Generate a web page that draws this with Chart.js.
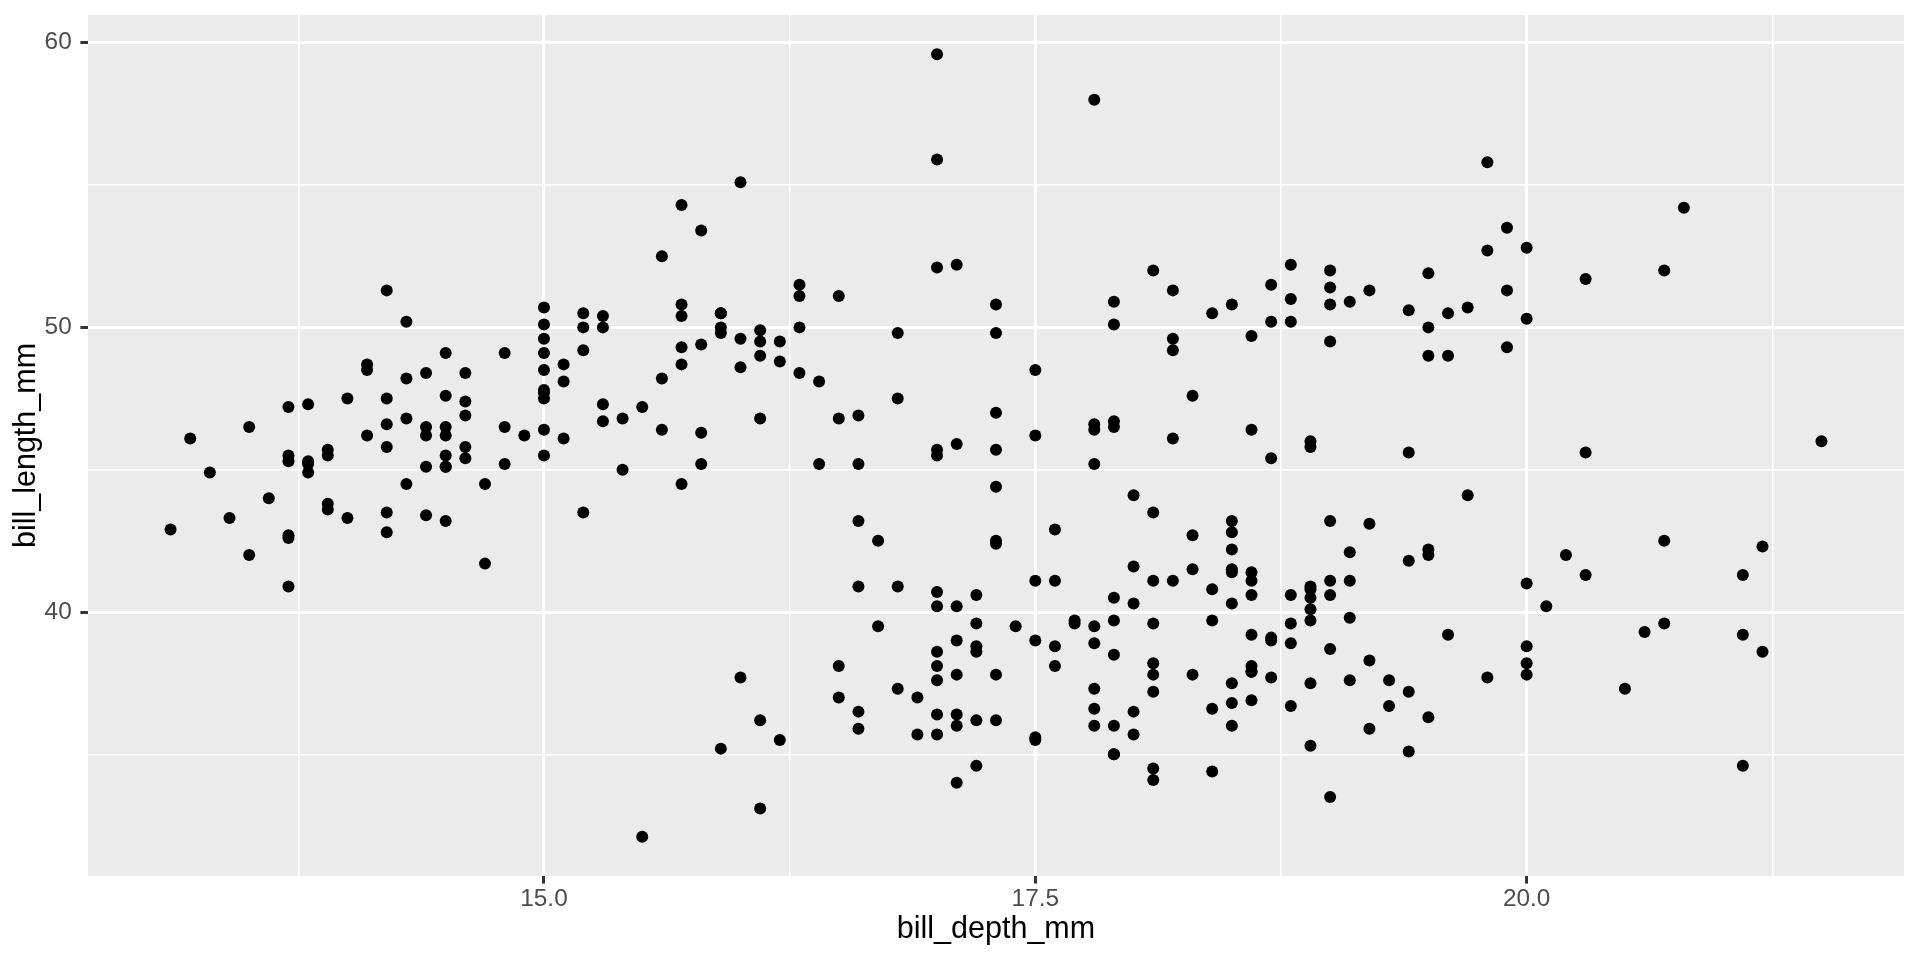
<!DOCTYPE html>
<html>
<head>
<meta charset="utf-8">
<script src="https://cdn.jsdelivr.net/npm/chart.js@4"></script>
<style>
  html, body { margin: 0; padding: 0; background: #ffffff; }
  #wrap { width: 1920px; height: 960px; }
</style>
</head>
<body>
<div id="wrap"><canvas id="penguinChart"></canvas></div>
<script>
// bill_depth_mm / bill_length_mm, grouped by penguin species
const adelieDepth = [18.7,17.4,18.0,19.3,20.6,17.8,19.6,18.1,20.2,17.1,17.3,17.6,21.2,21.1,17.8,19.0,20.7,18.4,21.5,18.3,
  18.7,19.2,18.1,17.2,18.9,18.6,17.9,18.6,18.9,16.7,18.1,17.8,18.9,17.0,21.1,20.0,18.5,19.3,19.1,18.0,
  18.4,18.5,19.7,16.9,18.8,19.0,18.9,17.9,21.2,17.7,18.9,17.9,19.5,18.1,18.6,17.5,18.8,16.6,19.1,16.9,
  21.1,17.0,18.2,17.1,18.0,16.2,19.1,16.6,19.4,19.0,18.4,17.2,18.9,17.5,18.5,16.8,19.4,16.1,19.1,17.2,
  17.6,18.8,19.4,17.8,20.3,19.5,18.6,19.2,18.8,18.0,18.1,17.1,18.1,17.3,18.9,18.6,18.5,16.1,18.5,17.9,
  20.0,16.0,20.0,18.6,18.9,17.2,20.0,17.0,19.0,16.5,20.3,17.7,19.5,20.7,18.3,17.0,20.5,17.0,18.6,17.2,
  19.8,17.0,18.5,15.9,19.0,17.6,18.3,17.1,18.0,17.9,19.2,18.5,18.5,17.6,17.5,17.5,20.1,16.5,17.9,17.1,
  17.2,15.5,17.0,16.8,18.7,18.6,18.4,17.8,18.1,17.1,18.5];
const adelieLength = [39.1,39.5,40.3,36.7,39.3,38.9,39.2,34.1,42.0,37.8,37.8,41.1,38.6,34.6,36.6,38.7,42.5,34.4,46.0,37.8,
  37.7,35.9,38.2,38.8,35.3,40.6,40.5,37.9,40.5,39.5,37.2,39.5,40.9,36.4,39.2,38.8,42.2,37.6,39.8,36.5,
  40.8,36.0,44.1,37.0,39.6,41.1,37.5,36.0,42.3,39.6,40.1,35.0,42.0,34.5,41.4,39.0,40.6,36.5,37.6,35.7,
  41.3,37.6,41.1,36.4,41.6,35.5,41.1,35.9,41.8,33.5,39.7,39.6,45.8,35.5,42.8,40.9,37.2,36.2,42.1,34.6,
  42.9,36.7,35.1,37.3,41.3,36.3,36.9,38.3,38.9,35.7,41.1,34.0,39.6,36.2,40.8,38.1,40.3,33.1,43.2,35.0,
  41.0,37.7,37.8,37.9,39.7,38.6,38.2,38.1,43.2,38.1,45.6,39.7,42.2,39.6,42.7,38.6,37.3,35.7,41.1,36.2,
  37.7,40.2,41.4,35.2,40.6,38.8,41.5,39.0,44.1,38.5,43.1,36.8,37.5,38.1,41.1,35.6,40.2,37.0,39.7,40.2,
  40.6,32.1,40.7,37.3,39.0,39.2,36.6,36.0,37.8,36.0,41.5];

const gentooDepth = [13.2,16.3,14.1,15.2,14.5,13.5,14.6,15.3,13.4,15.4,13.7,16.1,13.7,14.6,14.6,15.7,13.5,15.2,14.5,15.1,
  14.3,14.5,14.5,15.8,13.1,15.1,14.3,15.0,14.3,15.3,15.3,14.2,14.5,17.0,14.8,16.3,13.7,17.3,13.6,15.7,
  13.7,16.0,13.7,15.0,15.9,13.9,13.9,15.9,13.3,15.8,14.2,14.1,14.4,15.0,14.4,15.4,13.9,15.0,14.5,15.3,
  13.8,14.9,13.9,15.7,14.2,16.8,14.4,16.2,14.2,15.0,15.0,15.6,15.6,14.8,15.0,16.0,14.2,16.3,13.8,16.4,
  14.5,15.6,14.6,15.9,13.8,17.3,14.4,14.2,14.0,17.0,15.0,17.1,14.5,16.1,14.7,15.7,15.8,14.6,14.4,16.5,
  15.0,17.0,15.5,15.0,13.8,16.1,14.7,15.8,14.0,15.1,15.2,15.9,15.2,16.3,14.1,16.0,15.7,16.2,13.7,14.3,
  15.7,14.8,16.1];
const gentooLength = [46.1,50.0,48.7,50.0,47.6,46.5,45.4,46.7,43.3,46.8,40.9,49.0,45.5,48.4,45.8,49.3,42.0,49.2,46.2,48.7,
  50.2,45.1,46.5,46.3,42.9,46.1,44.5,47.8,48.2,50.0,47.3,42.8,45.1,59.6,49.1,48.4,42.6,44.4,44.0,48.7,
  42.7,49.6,45.3,49.6,50.5,43.6,45.5,50.5,44.9,45.2,46.6,48.5,45.1,50.1,46.5,45.0,43.8,45.5,43.2,50.4,
  45.3,46.2,45.7,54.3,45.8,49.8,46.2,49.5,43.5,50.7,47.7,46.4,48.2,46.5,46.4,48.6,47.5,51.1,45.2,45.2,
  49.1,52.5,47.4,50.0,44.9,50.8,43.4,51.3,47.5,52.1,47.5,52.2,45.5,49.5,44.5,50.8,49.4,46.9,48.4,51.1,
  48.5,55.9,47.2,49.1,47.3,46.8,41.7,53.4,43.3,48.1,50.5,49.8,43.5,51.5,46.2,55.1,44.5,48.8,47.2,46.8,
  50.4,45.2,49.9];

const chinstrapDepth = [17.9,19.5,19.2,18.7,19.8,17.8,18.2,18.2,18.9,19.9,17.8,20.3,17.3,18.1,17.1,19.6,20.0,17.8,18.6,18.2,
  17.3,17.5,16.6,19.4,17.9,19.0,18.4,19.0,17.8,20.0,16.6,20.8,16.7,18.8,18.6,16.8,18.3,20.7,16.6,19.9,
  19.5,17.5,19.1,17.0,17.9,18.5,17.9,19.6,18.7,17.3,16.4,19.0,17.3,19.7,17.3,18.8,16.6,19.9,18.8,19.4,
  19.5,16.5,17.0,19.8,18.1,18.2,19.0,18.7];
const chinstrapLength = [46.5,50.0,51.3,45.4,52.7,45.2,46.1,51.3,46.0,51.3,46.6,51.7,47.0,52.0,45.9,50.5,50.3,58.0,46.4,49.2,
  42.4,48.5,43.2,50.6,46.7,52.0,50.5,49.5,46.4,52.8,40.9,54.2,42.5,51.0,49.7,47.5,47.6,52.0,46.9,53.5,
  49.0,46.2,50.9,45.5,50.9,50.8,50.1,49.0,51.5,49.8,48.1,51.4,45.7,50.7,42.5,52.2,45.2,49.3,50.2,45.6,
  51.9,46.8,45.7,55.8,43.5,49.6,50.8,50.2];

// axis breaks (ggplot default: majors labelled, minors halfway between)
const xMajor = [15.0, 17.5, 20.0];
const xMinor = [13.75, 16.25, 18.75, 21.25];
const yMajor = [40, 50, 60];
const yMinor = [35, 45, 55];

function toPoints(xs, ys) {
  return xs.map((x, i) => ({ x: x, y: ys[i] }));
}

function isMajor(list, v) {
  return list.some(m => Math.abs(m - v) < 1e-6);
}

const panelBackground = {
  id: 'panelBackground',
  beforeDraw(chart) {
    const { ctx, chartArea } = chart;
    ctx.save();
    ctx.fillStyle = '#EBEBEB';
    ctx.fillRect(chartArea.left, chartArea.top, chartArea.right - chartArea.left, chartArea.bottom - chartArea.top);
    ctx.restore();
  }
};

Chart.defaults.font.family = "'Liberation Sans', Arial, sans-serif";

const pointStyle = {
  backgroundColor: '#000000',
  borderWidth: 0,
  pointRadius: 6,
  pointHoverRadius: 6
};

// keep the panel edges where ggplot puts them
function noEdgePadding(scale) {
  scale.paddingTop = 0;
  scale.paddingBottom = 0;
  scale.paddingLeft = 0;
  scale.paddingRight = 0;
}

const ctx = document.getElementById('penguinChart').getContext('2d');
new Chart(ctx, {
  type: 'scatter',
  data: {
    datasets: [
      Object.assign({ label: 'Adelie', data: toPoints(adelieDepth, adelieLength) }, pointStyle),
      Object.assign({ label: 'Gentoo', data: toPoints(gentooDepth, gentooLength) }, pointStyle),
      Object.assign({ label: 'Chinstrap', data: toPoints(chinstrapDepth, chinstrapLength) }, pointStyle)
    ]
  },
  options: {
    responsive: true,
    maintainAspectRatio: false,
    devicePixelRatio: 1,
    animation: false,
    layout: { padding: { left: 0, right: 16, top: 15, bottom: 0 } },
    plugins: {
      legend: { display: false },
      tooltip: { enabled: false }
    },
    scales: {
      x: {
        type: 'linear',
        min: 12.68,
        max: 21.92,
        afterBuildTicks: (scale) => {
          scale.ticks = xMinor.concat(xMajor).sort((a, b) => a - b).map(v => ({ value: v }));
        },
        afterFit: (scale) => { scale.height = 84; noEdgePadding(scale); },
        ticks: {
          autoSkip: false,
          maxRotation: 0,
          padding: 1,
          color: '#4D4D4D',
          font: { size: 24.4 },
          callback: (value) => isMajor(xMajor, value) ? value.toFixed(1) : ''
        },
        grid: {
          color: '#FFFFFF',
          lineWidth: (c) => isMajor(xMajor, c.tick.value) ? 3 : 1.5,
          tickColor: (c) => isMajor(xMajor, c.tick.value) ? '#333333' : 'rgba(0,0,0,0)',
          tickWidth: 3,
          tickLength: 7.6
        },
        border: { display: false },
        title: {
          display: true,
          text: 'bill_depth_mm',
          color: '#000000',
          font: { size: 30.5, lineHeight: 1 },
          padding: { top: 0, bottom: 15.3 }
        }
      },
      y: {
        type: 'linear',
        min: 30.725,
        max: 60.975,
        afterBuildTicks: (scale) => {
          scale.ticks = yMinor.concat(yMajor).sort((a, b) => a - b).map(v => ({ value: v }));
        },
        afterFit: (scale) => { scale.width = 88; noEdgePadding(scale); },
        ticks: {
          autoSkip: false,
          padding: 8.7,
          color: '#4D4D4D',
          font: { size: 24.4 },
          callback: (value) => isMajor(yMajor, value) ? String(value) : ''
        },
        grid: {
          color: '#FFFFFF',
          lineWidth: (c) => isMajor(yMajor, c.tick.value) ? 3 : 1.5,
          tickColor: (c) => isMajor(yMajor, c.tick.value) ? '#333333' : 'rgba(0,0,0,0)',
          tickWidth: 3,
          tickLength: 7.6
        },
        border: { display: false },
        title: {
          display: true,
          text: 'bill_length_mm',
          color: '#000000',
          font: { size: 30.5, lineHeight: 1 },
          padding: { top: 10.9, bottom: 0 }
        }
      }
    }
  },
  plugins: [panelBackground]
});
</script>
</body>
</html>
